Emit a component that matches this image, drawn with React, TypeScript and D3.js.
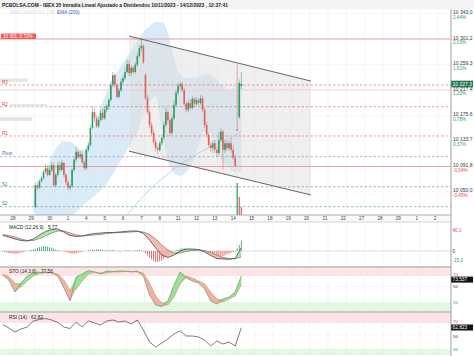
import React from "react";
import * as d3 from "d3";

// ---------- DATA ----------
const dayLabels = ["28","29","30","1","4","5","6","7","8","11","12","13","14","15","18","19","20","21","22","27","28","29","1","2"];
const SLOTS_PER_DAY = 9;
const FIRST_CANDLE_SLOT = 9;

// hourly candles [open, high, low, close], from 29 Nov to 14 Dec 12:00
const candles: [number, number, number, number][] = [
  // 29
  [10025,10065,10024,10061],[10061,10066,10053,10057],[10057,10071,10055,10068],[10068,10076,10065,10073],[10073,10086,10070,10083],[10083,10096,10080,10089],[10089,10094,10075,10078],[10078,10093,10076,10086],[10086,10099,10083,10094],
  // 30
  [10094,10098,10058,10061],[10061,10081,10058,10078],[10078,10099,10075,10094],[10094,10101,10083,10086],[10086,10103,10084,10098],[10098,10099,10073,10078],[10078,10081,10061,10066],[10066,10070,10053,10057],[10057,10063,10052,10060],
  // 1
  [10060,10089,10057,10086],[10086,10106,10083,10103],[10103,10124,10099,10116],[10116,10119,10104,10107],[10107,10117,10104,10112],[10112,10116,10096,10099],[10099,10103,10086,10089],[10089,10122,10086,10119],[10119,10132,10116,10127],
  // 4
  [10127,10160,10124,10155],[10155,10190,10152,10181],[10181,10188,10165,10171],[10171,10176,10155,10158],[10158,10173,10155,10168],[10168,10185,10165,10180],[10180,10188,10168,10171],[10171,10191,10168,10185],[10185,10194,10181,10191],
  // 5
  [10191,10204,10185,10201],[10201,10231,10198,10226],[10226,10247,10222,10242],[10242,10245,10222,10226],[10226,10229,10203,10206],[10206,10221,10204,10217],[10217,10236,10214,10231],[10231,10242,10227,10237],[10237,10254,10234,10247],
  // 6
  [10247,10267,10244,10260],[10260,10267,10240,10245],[10245,10259,10240,10254],[10254,10257,10244,10247],[10247,10263,10244,10259],[10259,10278,10255,10273],[10273,10291,10270,10286],[10286,10303,10280,10290],[10290,10293,10260,10263],
  // 7
  [10242,10245,10201,10204],[10204,10209,10178,10181],[10181,10185,10155,10160],[10160,10165,10142,10147],[10147,10152,10127,10132],[10132,10137,10116,10122],[10122,10126,10112,10119],[10119,10134,10116,10130],[10130,10144,10126,10139],
  // 8
  [10139,10165,10135,10160],[10160,10188,10157,10181],[10181,10185,10163,10168],[10168,10171,10142,10147],[10147,10176,10144,10171],[10171,10201,10168,10193],[10193,10217,10190,10213],[10213,10229,10209,10224],[10224,10231,10219,10227],
  // 11
  [10227,10231,10214,10217],[10217,10221,10191,10195],[10195,10198,10180,10185],[10185,10201,10181,10196],[10196,10203,10185,10188],[10188,10208,10185,10203],[10203,10206,10190,10195],[10195,10206,10191,10201],[10201,10204,10193,10196],
  // 12
  [10196,10209,10193,10204],[10204,10208,10181,10185],[10185,10188,10155,10160],[10160,10165,10139,10144],[10144,10148,10124,10127],[10127,10132,10116,10122],[10122,10135,10114,10130],[10130,10135,10114,10119],[10119,10124,10107,10114],
  // 13
  [10114,10149,10111,10135],[10135,10155,10132,10149],[10149,10152,10086,10119],[10119,10135,10114,10130],[10130,10135,10117,10122],[10122,10134,10119,10130],[10130,10139,10114,10119],[10119,10127,10103,10106],[10106,10111,10091,10093],
  // 14
  [10153,10259,10150,10151],[10173,10235,10170,10229],[10224,10247,10219,10227.3],
];
const volumes = [32, 18, 8];
const volumeUp = [true, false, false];
const VOLUME_FIRST_SLOT = 108;

// indicator samples every 3 slots
const IND_FIRST_SLOT = -7;
const IND_STEP = 3;
const BAND_FIRST = 5;
const bollUpper = [10049.9,10064.7,10082.8,10109.0,10125.5,10133.7,10132.0,10125.5,10118.9,10128.8,10160.0,10189.5,10214.2,10235.5,10251.9,10266.7,10281.5,10297.9,10312.7,10322.6,10329.1,10329.1,10312.7,10270.0,10243.7,10237.2,10237.2,10238.8,10243.7,10242.1,10233.9,10224.0,10217.4,10222.4,10230.6];
const bollLower = [10017.1,10003.9,9994.1,9990.8,9994.1,10000.7,10008.9,10017.1,10026.9,10035.2,10043.4,10053.2,10064.7,10079.5,10095.9,10114.0,10130.4,10148.5,10178.0,10197.7,10207.6,10151.8,10102.5,10081.1,10076.2,10082.8,10097.6,10127.1,10148.5,10146.8,10118.9,10097.6,10089.3,10082.8,10082.8];
const EMA_FIRST = 18;
const ema200 = [9987.5,9997.4,10008.9,10020.4,10031.9,10043.4,10053.2,10063.1,10071.3,10079.5,10087.7,10094.3,10100.8,10107.4,10114.0,10118.9,10123.8,10128.8,10133.7,10138.6,10143.5,10150.1];

const macdLine = [28.2,25.5,21.8,19.1,18.2,21.8,29.1,35.5,39.1,40.1,34.5,28.2,26.4,27.3,30.0,31.8,32.7,33.6,33.6,34.5,35.5,36.4,36.4,31.8,20.0,5.5,-7.3,-11.8,-7.3,0,3.6,3.6,2.7,-1.8,-8.2,-13.6,-14.5,-15.0,-13.5,5.8];
const signalLine = [30.0,28.2,25.5,21.8,19.1,19.1,22.7,27.3,32.7,36.4,36.4,32.7,29.1,27.3,28.2,29.1,30.0,31.8,32.7,33.6,33.6,34.5,35.5,34.5,30.0,21.8,10.9,1.8,-3.6,-3.6,-0.9,0.9,1.8,0.9,-2.7,-7.3,-11.8,-13.5,-14.0,-10.9];
const macdHist = [
  -1,-2,-3,-4,-4,-4.5,-5,
  -5,-4,-3,-2,-1,0,1,2,3,
  4,6,7,8,9,9,8,7,6,
  5,3,2,1,0,-1,-2,-3,-4,
  -5,-5,-4,-3,-2,-1,0,0,1,
  1,2,2,3,3,2,2,1,1,
  1,2,2,1,0,-1,-1,0,1,
  1,1,0,1,1,2,2,1,-1,
  -4,-8,-12,-15,-18,-20,-20,-19,-17,
  -14,-11,-8,-5,-2,0,2,3,4,
  5,5,4,4,3,2,2,1,1,
  1,0,0,-1,-2,-4,-6,-7,-8,
  -9,-10,-9,-8,-6,-5,-3,-2,-1,
  5,11,19,
];
const stoK = [71.9,62.3,39.2,56.5,70.0,75.8,76.7,77.7,75.8,70.0,46.9,21.9,68.1,73.8,80.6,77.7,73.8,79.6,78.7,79.6,79.6,77.7,79.6,70.0,33.5,14.2,11.3,21.9,52.7,77.7,66.2,60.4,56.5,45.0,21.9,16.2,25.8,29.6,39.2,70.0];
const stoD = [72.9,69.0,56.5,48.8,60.4,70.0,74.8,76.7,76.7,73.8,62.3,43.1,45.0,60.4,73.8,77.7,75.8,75.8,77.7,77.7,78.7,78.7,77.7,75.8,56.5,31.5,18.1,14.2,29.6,54.6,70.0,66.2,60.4,54.6,39.2,25.8,20.0,25.8,31.5,52.7];
const rsi = [67.7,62.3,56.2,60.8,63.8,73.1,75.4,76.9,74.6,70.8,63.8,61.5,71.5,63.8,73.1,70.0,66.9,73.1,74.6,71.5,73.1,68.5,74.6,59.2,40.8,33.1,39.2,45.4,53.1,57.7,50.0,50.0,48.5,43.8,34.6,42.3,37.7,40.8,34.6,62.8];

const priceTicks = [10343.0,10301.2,10259.3,10217.4,10175.6,10133.7,10091.8,10050.0];
const priceTickLabels = ["10 343,0","10 301,2","10 259,3","10 217,4","10 175,6","10 133,7","10 091,8","10 050,0"];
const pctLabels = ["2,44%","2,03%","1,61%","1,20%","0,78%","0,37%","-0,04%","-0,45%"];

const pivotNames = ["R3","R2","R1","Pivot","S1","S2"];
const pivotValues = [10225.7,10190.0,10141.9,10107.9,10058.6,10025.8];
const highLine = 10301.2;
const prevCloseLine = 10091.8;
const openLine = 10217.4;
const channelSlots = [55.4, 144.7];
const channelUpper = [10306, 10232];
const channelLower = [10117, 10045];
const lastPriceLabel = "10 227,3";
const lastPrice = 10227.3;

const macdTicks = [40.1, 0, -15.0];
const macdTickLabels = ["40,1", "0", "-15,0"];
const stoLevels = [70, 50, 20];
const rsiLevels = [70, 50, 30];
const stoLast = "73,537";
const rsiLast = "62,823";

// ---------- CHART ----------
const FONT = "Liberation Sans, Arial, sans-serif";
const GREEN = "#2e9d63";
const RED = "#e35d5d";

export default function App() {
  const W = 474, H = 356;
  const plotR = 451;
  const mainTop = 9, mainBot = 215;
  const macdTop = 222, macdBot = 266;
  const stoTop = 268, stoBot = 311;
  const rsiTop = 313, rsiBot = 355;

  const x = d3.scaleLinear().domain([0, 24 * SLOTS_PER_DAY]).range([16, 16 + 24 * 18.35]);
  const cx = (s: number) => x(s + 0.5);
  const indX = (i: number, first = 0) => cx(IND_FIRST_SLOT + (i + first) * IND_STEP);

  const yP = d3.scaleLinear().domain([10301.2, 10091.8]).range([39, 166.5]);
  const yM = d3.scaleLinear().domain([0, 40.1]).range([251, 251 - 40.1 * 0.55]);
  const yS = d3.scaleLinear().domain([20, 70]).range([302, 276]);
  const yR = d3.scaleLinear().domain([30, 70]).range([349, 323]);
  const yV = d3.scaleLinear().domain([0, 32]).range([mainBot, mainBot - 32]);

  const bandArea = d3.area<number>()
    .x((_, i) => indX(i, BAND_FIRST))
    .y0((_, i) => yP(bollLower[i]))
    .y1((d) => yP(d))
    .curve(d3.curveMonotoneX);
  const emaLine = d3.line<number>().x((_, i) => indX(i, EMA_FIRST)).y((d) => yP(d)).curve(d3.curveMonotoneX);

  const between = (a: number[], b: number[], ys: d3.ScaleLinear<number, number>, up: boolean) =>
    d3.area<number>()
      .x((_, i) => indX(i))
      .y0((_, i) => ys(b[i]))
      .y1((d, i) => ys(up ? Math.max(d, b[i]) : Math.min(d, b[i])))(a) || "";
  const lineOf = (arr: number[], ys: d3.ScaleLinear<number, number>) =>
    d3.line<number>().x((_, i) => indX(i)).y((d) => ys(d))(arr) || "";

  const dayGrid = dayLabels.map((_, k) => x(k * SLOTS_PER_DAY));

  const chX = channelSlots.map((s) => x(s));
  const channelPoly = [
    [chX[0], yP(channelUpper[0])], [chX[1], yP(channelUpper[1])],
    [chX[1], yP(channelLower[1])], [chX[0], yP(channelLower[0])],
  ].map((p) => p.join(",")).join(" ");

  const pivotColor = (n: string) => (n.startsWith("R") ? "#e57373" : n === "Pivot" ? "#8c9bb0" : "#5fa98a");
  const pivotText = (n: string) => (n.startsWith("R") ? "#e04848" : n === "Pivot" ? "#3a6fc4" : "#2e8a5a");

  const panelGrid = (top: number, bot: number) =>
    dayGrid.map((gx, i) => <line key={i} x1={gx} x2={gx} y1={top} y2={bot} stroke="#ececec" strokeWidth={0.6} />);

  return (
    <svg width={W} height={H} viewBox={`0 0 ${W} ${H}`} style={{ display: "block", position: "absolute", left: 0, top: 0, background: "#fff" }} fontFamily={FONT}>
      <defs>
        <clipPath id="cMain"><rect x={0} y={mainTop} width={plotR} height={mainBot - mainTop} /></clipPath>
        <clipPath id="cMacd"><rect x={0} y={macdTop} width={plotR} height={macdBot - macdTop} /></clipPath>
        <clipPath id="cSto"><rect x={0} y={stoTop} width={plotR} height={stoBot - stoTop} /></clipPath>
        <clipPath id="cRsi"><rect x={0} y={rsiTop} width={plotR} height={rsiBot - rsiTop} /></clipPath>
      </defs>
      <rect x={0} y={0} width={W} height={H} fill="#fff" />
      {/* header */}
      <rect x={0} y={0} width={W} height={mainTop} fill="#f3f3f3" />
      <text x={2} y={7} fontSize={5.4} fontWeight="bold" fill="#222" textLength={226} lengthAdjust="spacingAndGlyphs">
        PCBOLSA.COM - IBEX 35 Intradía Lineal Ajustado a Dividendos 10/11/2023 - 14/12/2023 , 12:37:41
      </text>

      {/* ---------- MAIN PANEL ---------- */}
      <g clipPath="url(#cMain)">
        {panelGrid(mainTop, mainBot)}
        {priceTicks.map((t, i) => <line key={i} x1={0} x2={plotR} y1={yP(t)} y2={yP(t)} stroke="#f2f2f2" strokeWidth={0.6} />)}
        <path d={bandArea(bollUpper) || ""} fill="#d3e8f6" opacity={0.85} />
        <polygon points={channelPoly} fill="#dcdcdc" opacity={0.45} />
        {pivotNames.map((n, i) => (
          <line key={n} x1={0} x2={plotR} y1={yP(pivotValues[i])} y2={yP(pivotValues[i])} stroke={pivotColor(n)} strokeWidth={0.7} strokeDasharray="2.5,2" />
        ))}
        <line x1={0} x2={plotR} y1={yP(highLine)} y2={yP(highLine)} stroke="#f08a8a" strokeWidth={0.8} />
        <line x1={0} x2={plotR} y1={yP(prevCloseLine)} y2={yP(prevCloseLine)} stroke="#f08a8a" strokeWidth={0.8} />
        <line x1={0} x2={plotR} y1={yP(openLine)} y2={yP(openLine)} stroke="#f6c4c4" strokeWidth={0.7} />
        <path d={emaLine(ema200) || ""} fill="none" stroke="#a9cbe6" strokeWidth={0.8} />
        {volumes.map((v, i) => {
          const col = volumeUp[i] ? GREEN : RED;
          const vx = cx(VOLUME_FIRST_SLOT + i);
          return <rect key={i} x={vx - 0.6} width={1.2} y={yV(v)} height={mainBot - yV(v)} fill={col} />;
        })}
        {candles.map((c, i) => {
          const [o, h, l, cl] = c;
          const up = cl >= o;
          const col = up ? GREEN : RED;
          const xc = cx(FIRST_CANDLE_SLOT + i);
          const top = yP(Math.max(o, cl));
          const bh = Math.max(0.6, Math.abs(yP(o) - yP(cl)));
          return (
            <g key={i}>
              <line x1={xc} x2={xc} y1={yP(h)} y2={yP(l)} stroke={col} strokeWidth={0.5} />
              <rect x={xc - 0.8} width={1.6} y={top} height={bh} fill={col} />
            </g>
          );
        })}
        <line x1={chX[0]} x2={chX[1]} y1={yP(channelUpper[0])} y2={yP(channelUpper[1])} stroke="#555" strokeWidth={0.9} />
        <line x1={chX[0]} x2={chX[1]} y1={yP(channelLower[0])} y2={yP(channelLower[1])} stroke="#555" strokeWidth={0.9} />
      </g>
      {/* left labels */}
      <rect x={1} y={yP(highLine) - 5.5} width={35} height={5.5} fill="#f25a5a" />
      <text x={3} y={yP(highLine) - 1.3} fontSize={4.6} fill="#fff">10 301; 0,72%</text>
      <rect x={0} y={78.5} width={28} height={3.5} fill="#e6e6e6" />
      <rect x={10} y={104} width={37} height={2.5} fill="#e6e6e6" />
      <rect x={0} y={117} width={32} height={4} fill="#e6e6e6" />
      {pivotNames.map((n, i) => (
        <text key={n} x={2} y={yP(pivotValues[i]) - 1.2} fontSize={4.6} fill={pivotText(n)}>{n}</text>
      ))}
      {/* legend */}
      <text x={10} y={14} fontSize={4.8} fill="#c9dbe8">SMA (100)</text>
      <text x={33} y={14} fontSize={4.8} fill="#d8e2d8">BOLL (20)</text>
      <text x={57} y={14} fontSize={4.8} fill="#3b55c8">EMA (200)</text>

      {/* right axis main */}
      {priceTicks.map((t, i) => (
        <g key={i}>
          <text x={453} y={yP(t) + 0.5} fontSize={5} fill="#333">{priceTickLabels[i]}</text>
          <text x={453} y={yP(t) + 5.3} fontSize={4.6} fill={pctLabels[i].startsWith("-") ? "#e04848" : "#2e9d63"}>{pctLabels[i]}</text>
        </g>
      ))}
      <rect x={451} y={yP(lastPrice) - 3.3} width={22} height={6.6} fill="#1d7a4c" />
      <text x={452.5} y={yP(lastPrice) + 1.8} fontSize={5} fill="#fff">{lastPriceLabel}</text>

      {/* x axis */}
      <rect x={0} y={mainBot} width={plotR} height={macdTop - mainBot} fill="#fafafa" />
      <line x1={0} x2={plotR} y1={mainBot} y2={mainBot} stroke="#999" strokeWidth={0.8} />
      <line x1={0} x2={plotR} y1={macdTop} y2={macdTop} stroke="#bbb" strokeWidth={0.6} />
      {dayLabels.map((d, k) => (
        <text key={k} x={dayGrid[k] - 3} y={220.3} fontSize={4.6} fill="#444" textAnchor="middle">{d}</text>
      ))}

      {/* ---------- MACD ---------- */}
      <g clipPath="url(#cMacd)">
        {panelGrid(macdTop, macdBot)}
        <line x1={0} x2={plotR} y1={yM(0)} y2={yM(0)} stroke="#cfcfcf" strokeWidth={0.7} />
        {macdHist.map((v, i) => {
          const hx = cx(IND_FIRST_SLOT + i);
          return <rect key={i} x={hx - 0.4} width={0.8} y={Math.min(yM(v), yM(0))} height={Math.abs(yM(v) - yM(0))} fill={v >= 0 ? "#2ea06a" : "#e04848"} />;
        })}
        <path d={between(macdLine, signalLine, yM, true)} fill="#9ee39e" opacity={0.85} />
        <path d={between(macdLine, signalLine, yM, false)} fill="#f1b0a6" opacity={0.85} />
        <path d={lineOf(signalLine, yM)} fill="none" stroke="#8a6f62" strokeWidth={0.7} />
        <path d={lineOf(macdLine, yM)} fill="none" stroke="#333" strokeWidth={0.7} />
      </g>
      <text x={9} y={228.5} fontSize={4.8} fill="#222">MACD (12,26,9) · 5,77</text>
      {macdTicks.map((t, i) => (
        <text key={i} x={452.5} y={yM(t) + (i === 0 ? 3 : i === 2 ? 2.5 : 1.7)} fontSize={4.6} fill={i === 0 ? "#e04848" : i === 2 ? "#2e9d63" : "#333"}>{macdTickLabels[i]}</text>
      ))}
      <rect x={0} y={macdBot} width={plotR} height={stoTop - macdBot} fill="#c8c8c8" />

      {/* ---------- STO ---------- */}
      <g clipPath="url(#cSto)">
        <rect x={0} y={stoTop} width={plotR} height={yS(70) - stoTop} fill="#fde4e4" />
        <rect x={0} y={yS(20)} width={plotR} height={stoBot - yS(20)} fill="#e2f8e2" />
        {panelGrid(stoTop, stoBot)}
        <line x1={0} x2={plotR} y1={yS(50)} y2={yS(50)} stroke="#f0f0f0" strokeWidth={0.6} />
        <path d={between(stoK, stoD, yS, true)} fill="#8fdc8f" opacity={0.9} />
        <path d={between(stoK, stoD, yS, false)} fill="#f2a69c" opacity={0.9} />
        <path d={lineOf(stoD, yS)} fill="none" stroke="#c9a46a" strokeWidth={0.7} />
        <path d={lineOf(stoK, yS)} fill="none" stroke="#6a9a5a" strokeWidth={0.7} />
      </g>
      <text x={9} y={273} fontSize={4.8} fill="#222">STO (14,3,8) · 77,56</text>
      {stoLevels.map((t, i) => (
        <text key={i} x={453} y={yS(t) + (t === 70 ? 0 : 1.7)} fontSize={4.4} fill={t === 70 ? "#e04848" : t === 20 ? "#2e9d63" : "#333"}>{t}</text>
      ))}
      <rect x={451} y={276.6} width={22} height={6} fill="#111" />
      <text x={452.5} y={281.4} fontSize={4.8} fill="#fff">{stoLast}</text>
      <rect x={0} y={stoBot} width={plotR} height={rsiTop - stoBot} fill="#c8c8c8" />

      {/* ---------- RSI ---------- */}
      <g clipPath="url(#cRsi)">
        <rect x={0} y={rsiTop} width={plotR} height={yR(70) - rsiTop} fill="#fde4e4" />
        <rect x={0} y={yR(30)} width={plotR} height={rsiBot - yR(30)} fill="#e2f8e2" />
        {panelGrid(rsiTop, rsiBot)}
        <line x1={0} x2={plotR} y1={yR(50)} y2={yR(50)} stroke="#f0f0f0" strokeWidth={0.6} />
        <path d={lineOf(rsi, yR)} fill="none" stroke="#444" strokeWidth={0.7} />
      </g>
      <text x={9} y={318.5} fontSize={4.8} fill="#222">RSI (14) · 62,82</text>
      {rsiLevels.map((t, i) => (
        <text key={i} x={453} y={yR(t) + (t === 70 ? 0 : 1.7)} fontSize={4.4} fill={t === 70 ? "#e04848" : t === 30 ? "#2e9d63" : "#333"}>{t}</text>
      ))}
      <rect x={451} y={324.5} width={22} height={6} fill="#111" />
      <text x={452.5} y={329.3} fontSize={4.8} fill="#fff">{rsiLast}</text>

      {/* right border */}
      <line x1={plotR} x2={plotR} y1={mainTop} y2={H} stroke="#888" strokeWidth={0.8} />
    </svg>
  );
}
